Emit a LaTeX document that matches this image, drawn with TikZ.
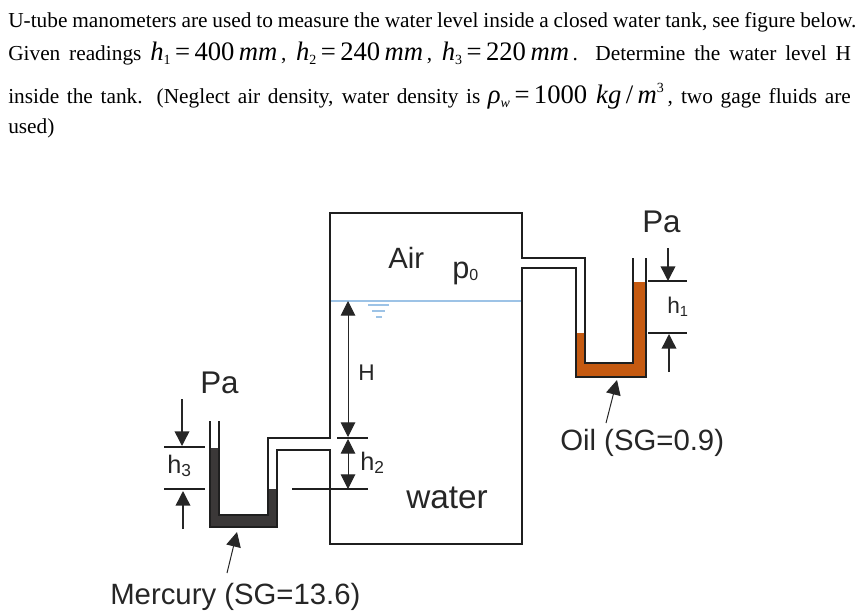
\documentclass[tikz,border=0pt]{standalone}
\usepackage{fontspec}
\setmainfont{Liberation Serif}
\newfontfamily\lsans{Liberation Sans}
\usetikzlibrary{arrows.meta}
\definecolor{oilc}{HTML}{C55A11}
\definecolor{hgc}{HTML}{3B3838}
\definecolor{waterc}{HTML}{9DC3E6}
\newcommand{\mth}[1]{{\fontsize{20pt}{20pt}\selectfont #1}}
\newcommand{\hsub}[2]{\mth{\textit{#1}}\raisebox{-3.5pt}{\fontsize{10.5pt}{11pt}\selectfont #2}}
\begin{document}
\begin{tikzpicture}[x=0.75pt,y=-0.75pt,
  wall/.style={line width=1.7pt,line join=miter,black!88},
  dim/.style={line width=0.75pt,black!85},
  tick/.style={line width=1.1pt,black!88},
  head/.style={-{Triangle[length=11pt,width=11pt]}},
  dhead/.style={{Triangle[length=11pt,width=11pt]}-{Triangle[length=11pt,width=11pt]}},
  para/.style={inner sep=0pt,anchor=base west,font=\fontsize{16pt}{18pt}\selectfont},
  lab/.style={inner sep=0pt,anchor=base west,text=black!85,font=\lsans\fontsize{22pt}{24pt}\selectfont},
  small/.style={inner sep=0pt,anchor=base west,text=black!85,font=\lsans\fontsize{17pt}{18pt}\selectfont}]
\useasboundingbox (0,0) rectangle (863,614);
% question text
\node[para] (l1) at (8,27) {\hbox to 636pt{U-tube manometers are used to measure the water level inside a closed water tank, see figure below.}};
\node[para] (l2) at (8,60) {\hbox to 632pt{Given readings \hsub{h}{1}\mth{\,=\,400\,\textit{mm}}\,, \hsub{h}{2}\mth{\,=\,240\,\textit{mm}}\,, \hsub{h}{3}\mth{\,=\,220\,\textit{mm}}\,. Determine the water level H}};
\node[para] (l3) at (8,103) {\hbox to 632pt{inside the tank. (Neglect air density, water density is \mth{\textit{ρ}}\raisebox{-3.5pt}{\fontsize{10.5pt}{11pt}\selectfont\textit{w}}\mth{\,=\,1000\,\,\textit{kg}\,/\,\textit{m}}\raisebox{8pt}{\fontsize{10.5pt}{11pt}\selectfont 3}\,, two gage fluids are}};
\node[para] (l4) at (8,133) {used)};
% fluids
\fill[oilc] (576,333) rectangle (585,377) (585,363) rectangle (646,377) (633,282) rectangle (646,377);
\fill[hgc] (210,448) rectangle (219,527) (219,515) rectangle (277,527) (268,489) rectangle (277,527);
% tank and tubes
\coordinate (tl) at (330,213); \coordinate (tr) at (522,213);
\coordinate (bl) at (330,544); \coordinate (br) at (522,544);
\draw[wall] (219,421) -- (219,515) -- (268,515) -- (268,438) -- (330,438) -- (tl) -- (tr) -- (522,258) -- (585,258) -- (585,363) -- (633,363) -- (633,258);
\draw[wall] (210,421) -- (210,527) -- (277,527) -- (277,450) -- (330,450) -- (bl) -- (br) -- (522,268) -- (576,268) -- (576,377) -- (646,377) -- (646,258);
% water surface
\draw[waterc,line width=1pt] (331,301) -- (521,301);
\draw[waterc,line width=0.9pt] (368,305) -- (389,305) (372,311) -- (385,311) (376,317) -- (382,317);
% right gauge dimensions
\coordinate (r1a) at (648,281); \coordinate (r1b) at (687,281);
\coordinate (r2a) at (648,333); \coordinate (r2b) at (687,333);
\coordinate (r3) at (668,248); \coordinate (r3e) at (668,281);
\coordinate (r4) at (669,372); \coordinate (r4e) at (669,334);
\draw[tick] (r1a) -- (r1b) (r2a) -- (r2b);
\draw[dim,line width=1.1pt,head] (r3) -- (r3e);
\draw[dim,line width=1.1pt,head] (r4) -- (r4e);
% left gauge dimensions
\coordinate (l1a) at (164,447); \coordinate (l1b) at (205,447);
\coordinate (l2a) at (164,489); \coordinate (l2b) at (205,489);
\coordinate (l3a) at (182,399); \coordinate (l3e) at (182,446);
\coordinate (l4a) at (183,529); \coordinate (l4e) at (183,491);
\draw[tick] (l1a) -- (l1b) (l2a) -- (l2b);
\draw[dim,line width=1.1pt,head] (l3a) -- (l3e);
\draw[dim,line width=1.1pt,head] (l4a) -- (l4e);
% H and h2
\coordinate (c1a) at (337,438); \coordinate (c1b) at (368,438);
\coordinate (c2a) at (292,489); \coordinate (c2b) at (368,489);
\coordinate (H1) at (348,301); \coordinate (H2) at (348,437);
\coordinate (h1) at (348,439); \coordinate (h2) at (348,489);
\draw[tick] (c1a) -- (c1b) (c2a) -- (c2b);
\draw[dim,dhead] (H1) -- (H2);
\draw[dim,dhead] (h1) -- (h2);
% fluid pointers
\coordinate (o1) at (606,423); \coordinate (o2) at (617,380);
\coordinate (m1) at (227,573); \coordinate (m2) at (237,532);
\draw[dim,head] (o1) -- (o2);
\draw[dim,head] (m1) -- (m2);
% labels
\node[lab,font=\lsans\fontsize{23.5pt}{24pt}\selectfont] (paR) at (642,232) {Pa};
\node[lab,font=\lsans\fontsize{23.5pt}{24pt}\selectfont] (paL) at (200,393) {Pa};
\node[lab] (air) at (388,268) {Air};
\node[lab,font=\lsans\fontsize{23pt}{24pt}\selectfont] (p0) at (452,278) {p\raisebox{-2pt}{\fontsize{12pt}{13pt}\selectfont 0}};
\node[lab,font=\lsans\fontsize{25pt}{26pt}\selectfont] (wat) at (406,508) {water};
\node[lab] (oil) at (560,450) {Oil (SG=0.9)};
\node[lab] (hg) at (110,604) {Mercury (SG=13.6)};
\node[small] (H) at (358,380) {H};
\node[small] (lh1) at (667,313) {h\raisebox{-2.5pt}{\fontsize{11pt}{12pt}\selectfont 1}};
\node[small,font=\lsans\fontsize{19pt}{20pt}\selectfont] (lh2) at (360,470) {h\raisebox{-2.5pt}{\fontsize{13pt}{14pt}\selectfont 2}};
\node[small,font=\lsans\fontsize{19pt}{20pt}\selectfont] (lh3) at (167,473) {h\raisebox{-2.5pt}{\fontsize{13pt}{14pt}\selectfont 3}};
\end{tikzpicture}
\end{document}
